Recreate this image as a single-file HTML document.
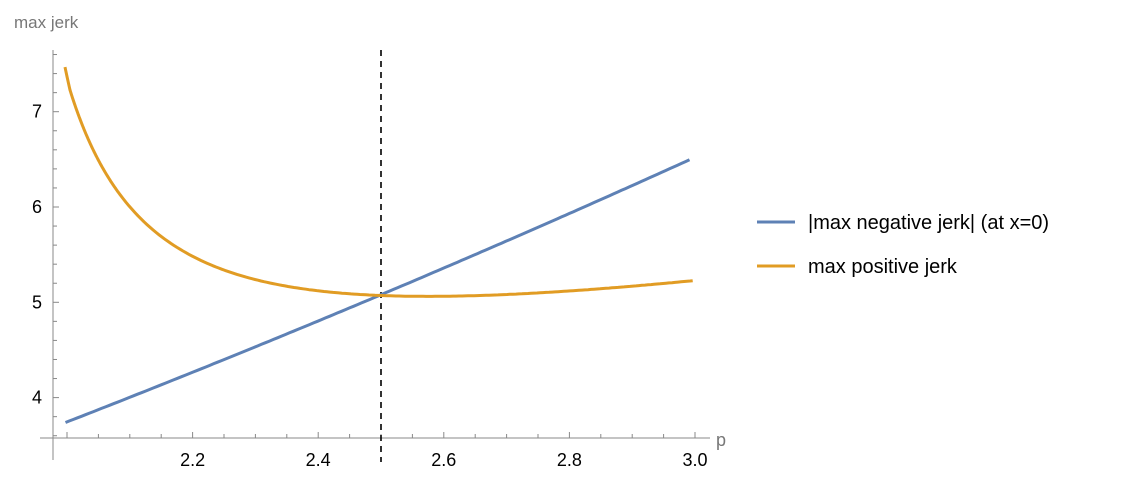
<!DOCTYPE html>
<html><head><meta charset="utf-8"><style>
html,body{margin:0;padding:0;background:#fff;}
svg{display:block;font-family:"Liberation Sans",sans-serif;}
</style></head><body>
<svg id="s" width="1142" height="478" viewBox="0 0 1142 478" xmlns="http://www.w3.org/2000/svg">
<g id="axes" stroke="#888" stroke-width="1"></g>
<text x="14" y="28" font-size="17" fill="#777">max jerk</text>
<text x="716" y="446" font-size="18" fill="#777">p</text>
<g id="lbl" font-size="18" fill="#000"></g>
<line x1="381" y1="50" x2="381" y2="462" stroke="#000" stroke-width="1.6" stroke-dasharray="6,5"/>
<path id="blue" fill="none" stroke="#5E81B5" stroke-width="3"/>
<path id="orange" fill="none" stroke="#E19C24" stroke-width="3" stroke-linejoin="round"/>
<line x1="757" y1="222" x2="795" y2="222" stroke="#5E81B5" stroke-width="3"/>
<text x="808" y="229" font-size="20" fill="#000">|max negative jerk| (at x=0)</text>
<line x1="757" y1="266" x2="795" y2="266" stroke="#E19C24" stroke-width="3"/>
<text x="808" y="273" font-size="20" fill="#000">max positive jerk</text>
</svg>
<script>
const X=p=>381+(p-2.5)*628, Y=v=>302.3-(v-5)*95.3;
const ns="http://www.w3.org/2000/svg";
function el(t,a,par){const e=document.createElementNS(ns,t);for(const k in a)e.setAttribute(k,a[k]);document.getElementById(par).appendChild(e);return e;}
el('line',{x1:40,y1:438,x2:710,y2:438},'axes');
el('line',{x1:53,y1:50,x2:53,y2:460},'axes');
for(let i=0;i<=20;i++){const p=2+i*0.05,x=X(p);const maj=i%4==0;el('line',{x1:x,y1:438,x2:x,y2:maj?432:434},'axes');}
for(let i=0;i<=22;i++){const v=3.6+i*0.2;const y=Y(v);if(y<52)continue;const maj=Math.abs(v-Math.round(v))<1e-6;el('line',{x1:53,y1:y,x2:maj?59:57,y2:y},'axes');}
[2.2,2.4,2.6,2.8,3.0].forEach(p=>{const t=el('text',{x:X(p),y:466,'text-anchor':'middle'},'lbl');t.textContent=p.toFixed(1);});
[4,5,6,7].forEach(v=>{const t=el('text',{x:42,y:Y(v)+6,'text-anchor':'end'},'lbl');t.textContent=v;});
// blue: slight quadratic through 3 points
{let d='';const P=[[65.5,422.5],[381.5,294.5],[692.7,158.3]];
for(let x=65.5;x<=692.7;x+=4){const [a,b,c]=P;
const y=a[1]*((x-b[0])*(x-c[0]))/((a[0]-b[0])*(a[0]-c[0]))+b[1]*((x-a[0])*(x-c[0]))/((b[0]-a[0])*(b[0]-c[0]))+c[1]*((x-a[0])*(x-b[0]))/((c[0]-a[0])*(c[0]-b[0]));
d+=(d?'L':'M')+x.toFixed(1)+','+y.toFixed(1);}
document.getElementById('blue').setAttribute('d',d);}
// orange: fitted y = A - B/(x-c) + D x
{const A=439.1,B=33777,c=-30,D=-0.1612;let d='';
const f=x=>A-B/(x-c)+D*x;
const xs=[];for(let x=65;x<120;x+=0.5)xs.push(x);for(let x=120;x<=692.7;x+=3)xs.push(x);xs.push(692.7);
xs.forEach(x=>{let y=f(x);if(x<70)y-= (70-x)*1.2;d+=(d?'L':'M')+x.toFixed(1)+','+y.toFixed(1);});
document.getElementById('orange').setAttribute('d',d);}
</script>
</body></html>
